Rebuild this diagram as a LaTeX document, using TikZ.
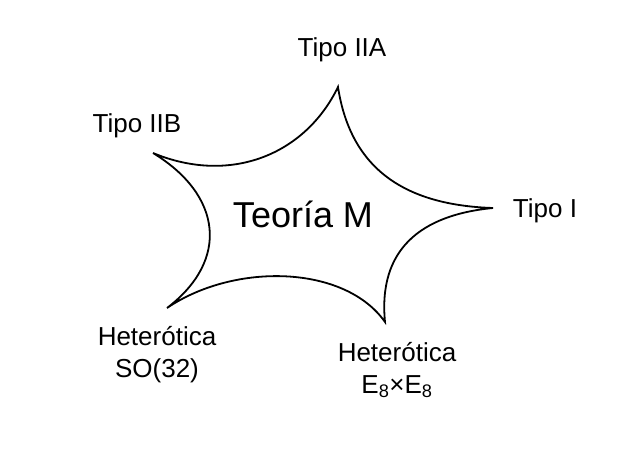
\documentclass[tikz,border=0pt]{standalone}
\usepackage{fontspec}
\setmainfont{Liberation Sans}
\usetikzlibrary{positioning}
\newcommand{\labelfont}{\fontsize{26}{32}\selectfont}
\newcommand{\titlefont}{\fontsize{36}{40}\selectfont}
\newcommand{\esub}{E\textsubscript{8}}
\tikzset{
  tipo/.style = {anchor = base, inner sep = 0pt, font = \labelfont, align = center},
  brane/.style = {line width = 1.8pt, line join = miter}
}

\begin{document}
\begin{tikzpicture}[x = 1pt, y = -1pt]

					\useasboundingbox (0,0) rectangle (640,469);

					\coordinate (iia) at (338,87);
					\coordinate (iib) at (153,153);
					\coordinate (ti) at (493,208);
					\coordinate (he8) at (385,322);
					\coordinate (hso) at (167,308);

					\draw[brane] (iib) .. controls (230,185) and (305,155) .. (iia)
						.. controls (350,165) and (400,205) .. (ti)
						.. controls (420,215) and (378,250) .. (he8)
						.. controls (345,265) and (235,262) .. (hso)
						.. controls (230,260) and (222,195) .. (iib) -- cycle;

					\node[tipo] (miia) at (342,56) {Tipo IIA};
					\node[tipo] (miib) at (137,132) {Tipo IIB};
					\node[tipo] (mti) at (545,217) {Tipo I};
					\node[tipo] (mhso) at (157,377) {Heterótica\\SO(32)};
					\node[tipo] (mhe8) at (397,393) {Heterótica\\\esub×\esub};
					\node[anchor = base, inner sep = 0pt, font = \titlefont] (teoria) at (303,227) {Teoría M};

\end{tikzpicture}
\end{document}
